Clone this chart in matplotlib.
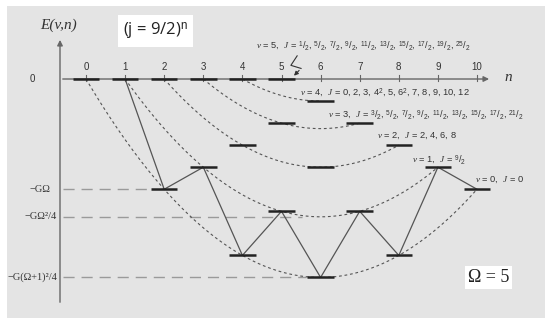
import numpy as np
import matplotlib
matplotlib.use("Agg")
import matplotlib.pyplot as plt

plt.rcParams["font.family"] = ["Liberation Sans", "DejaVu Sans"]
plt.rcParams["mathtext.fontset"] = "custom"
plt.rcParams["mathtext.rm"] = "Liberation Sans"
plt.rcParams["mathtext.it"] = "Liberation Serif:italic"
plt.rcParams["mathtext.bf"] = "Liberation Sans:bold"

# levels: n positions and energies in units of G (Omega = 5)
OMEGA = 5
v0_n = [0, 2, 4, 6, 8, 10]
v0_E = [0, -5, -8, -9, -8, -5]
v1_n = [1, 3, 5, 7, 9]
v1_E = [0, -4, -6, -6, -4]
v2_n = [2, 4, 6, 8]
v2_E = [0, -3, -4, -3]
v3_n = [3, 5, 7]
v3_E = [0, -2, -2]
v4_n = [4, 6]
v4_E = [0, -1]
v5_n = [5]
v5_E = [0]

# J values printed next to each v band (twice the value for the half-integers)
v5_J2 = [1, 5, 7, 9, 11, 13, 15, 17, 19, 25]
v4_J = ["0", "2", "3", "4$^2$", "5", "6$^2$", "7", "8", "9", "10", "12"]
v3_J2 = [3, 5, 7, 9, 11, 13, 15, 17, 21]
v2_J = ["2", "4", "6", "8"]
v1_J2 = [9]
v0_J = ["0"]

# zigzag path alternates between v=1 and v=0 levels
zig_n = [1, 2, 3, 4, 5, 6, 7, 8, 9, 10]

ref_E = [-OMEGA, -OMEGA ** 2 / 4, -(OMEGA + 1) ** 2 / 4]
ref_labels = ["\u2212G\u03a9", "\u2212G\u03a9\u00b2/4", "\u2212G(\u03a9+1)\u00b2/4"]
n_ticks = list(range(11))
CENTER_N = 6

bands = [(v0_n, v0_E), (v1_n, v1_E), (v2_n, v2_E), (v3_n, v3_E), (v4_n, v4_E), (v5_n, v5_E)]


def fr(a):
    return r"$^{%d}/_{2}$" % a


fig = plt.figure(figsize=(5.5, 3.25), dpi=100)
ax = fig.add_axes([7 / 550, 7 / 325, 538 / 550, 312 / 325])
ax.set_facecolor("#e4e4e4")
ax.set_xlim(-2.0205, 11.739)
ax.set_ylim(-10.839, 3.311)
ax.set_xticks([])
ax.set_yticks([])
for s in ax.spines.values():
    s.set_visible(False)

axis_c = "#666666"
# reference horizontal dashed lines
ref_end = [1.56, 5.52, 5.63]
for E, xe, lab, xl in zip(ref_E, ref_end, ref_labels, [-0.92, -0.74, -0.74]):
    ax.plot([-0.6, xe], [E, E], color="#9a9a9a", lw=1.0, dashes=(8, 5), zorder=1)
    ax.text(xl, E, lab, ha="right", va="center", fontsize=7.5, family="Liberation Serif", color="#333333")

# dashed parabolas for each band
for ns, Es in bands:
    if len(ns) < 2:
        continue
    nn = np.array(ns + [2 * CENTER_N - x for x in ns], float)
    ee = np.array(Es + Es, float)
    coef = np.polyfit(nn, ee, 2)
    xs = np.linspace(ns[0], ns[-1], 200)
    ax.plot(xs, np.polyval(coef, xs), color="#555555", lw=0.8, dashes=(2.5, 2.5), zorder=2)

# zigzag transitions
lookup = {}
for ns, Es in bands[:2]:
    for n, E in zip(ns, Es):
        lookup[n] = E
ax.plot(zig_n, [lookup[n] for n in zig_n], color="#555555", lw=0.9, zorder=3)

# axes
ax.annotate("", xy=(10.38, 0), xytext=(-0.665, 0),
            arrowprops=dict(arrowstyle="-|>", color=axis_c, lw=1.0, mutation_scale=8), zorder=2)
ax.annotate("", xy=(-0.665, 1.90), xytext=(-0.665, -10.25),
            arrowprops=dict(arrowstyle="-|>", color=axis_c, lw=1.0, mutation_scale=8), zorder=2)
for n in n_ticks:
    ax.plot([n, n], [-0.1, 0.2], color=axis_c, lw=0.8, zorder=2)
    ax.text(n, 0.54, str(n), ha="center", va="center", fontsize=7, color="#333333")
ax.text(10.79, 0.05, "n", ha="center", va="center", fontsize=11, family="Liberation Serif",
        style="italic", color="#333333")
ax.text(-1.38, 0, "0", ha="center", va="center", fontsize=7, color="#333333")
ax.text(-0.69, 2.45, "E(v,n)", ha="center", va="center", fontsize=11, family="Liberation Serif",
        style="italic", color="#333333")

# level bars
for ns, Es in bands:
    for n, E in zip(ns, Es):
        ax.plot([n - 0.34, n + 0.34], [E, E], color="#222222", lw=1.8, solid_capstyle="butt", zorder=4)

# band labels
lab_kw = dict(ha="left", va="center", fontsize=6.7, color="#333333")
ax.text(4.35, 1.50, r"$v$ = 5,  $J$ = " + ", ".join(fr(j) for j in v5_J2), **lab_kw)
ax.text(5.47, -0.635, r"$v$ = 4,  $J$ = " + ", ".join(v4_J), **lab_kw)
ax.text(6.19, -1.59, r"$v$ = 3,  $J$ = " + ", ".join(fr(j) for j in v3_J2), **lab_kw)
ax.text(7.44, -2.585, r"$v$ = 2,  $J$ = " + ", ".join(v2_J), **lab_kw)
ax.text(8.34, -3.67, r"$v$ = 1,  $J$ = " + ", ".join(fr(j) for j in v1_J2), **lab_kw)
ax.text(9.95, -4.58, r"$v$ = 0,  $J$ = " + ", ".join(v0_J), **lab_kw)

# squiggle pointing at the v=5 level
sq_x = [5.40, 5.24, 5.50]
sq_y = [1.05, 0.62, 0.48]
ax.plot(sq_x, sq_y, color="#333333", lw=0.8, zorder=5)
ax.annotate("", xy=(5.27, 0.06), xytext=(sq_x[-1], sq_y[-1]),
            arrowprops=dict(arrowstyle="-|>", color="#333333", lw=0.8, mutation_scale=6), zorder=5)

# boxed annotations
ax.text(1.78, 2.18, r"(j = 9/2)$^{\mathrm{n}}$", ha="center", va="center", fontsize=12,
        family=["Open Sans", "DejaVu Sans"], color="#222222",
        bbox=dict(boxstyle="square,pad=0.3", fc="white", ec="none"))
ax.text(10.29, -9.0, "\u03a9 = 5", ha="center", va="center", fontsize=13,
        family="Liberation Serif", color="#222222",
        bbox=dict(boxstyle="square,pad=0.15", fc="white", ec="none"))

fig.savefig("out.png", dpi=100)
